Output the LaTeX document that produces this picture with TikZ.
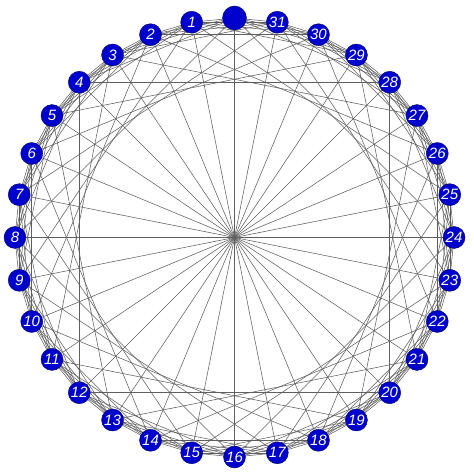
\documentclass[tikz,border=0pt]{standalone}
\usepackage{fontspec}
\setmainfont{Liberation Sans}
\usetikzlibrary{backgrounds}
\definecolor{nodeblue}{RGB}{0,0,205}
\definecolor{edgegray}{RGB}{95,95,95}
\begin{document}
\begin{tikzpicture}[x=1pt,y=1pt,
  edge/.style={draw=edgegray, line width=0.55pt},
  vtx/.style={circle, fill=nodeblue, draw=black!50!nodeblue, line width=0.4pt,
    minimum size=22pt, inner sep=0pt, text=white,
    font=\itshape\fontsize{15}{15}\selectfont},
  topvtx/.style={vtx, minimum size=24pt}]
\useasboundingbox (0,0) rectangle (474,474);
\coordinate (c) at (234.5,236.5);
\node[topvtx] (n0) at ([shift={(90:219.5)}]c) {};
\foreach \j in {1,...,31}
  \node[vtx] (n\j) at ([shift={(90+\j*11.25:219.5)}]c) {\j};
\begin{scope}[on background layer]
  \foreach \j in {0,...,31} {
    \draw[edge] (c) -- (n\j.center);
    \foreach \k in {1,2,3,4,8} {
      \pgfmathtruncatemacro\m{mod(\j+\k,32)}
      \draw[edge] (n\j.center) -- (n\m.center);
    }
  }
\end{scope}
\end{tikzpicture}
\end{document}
